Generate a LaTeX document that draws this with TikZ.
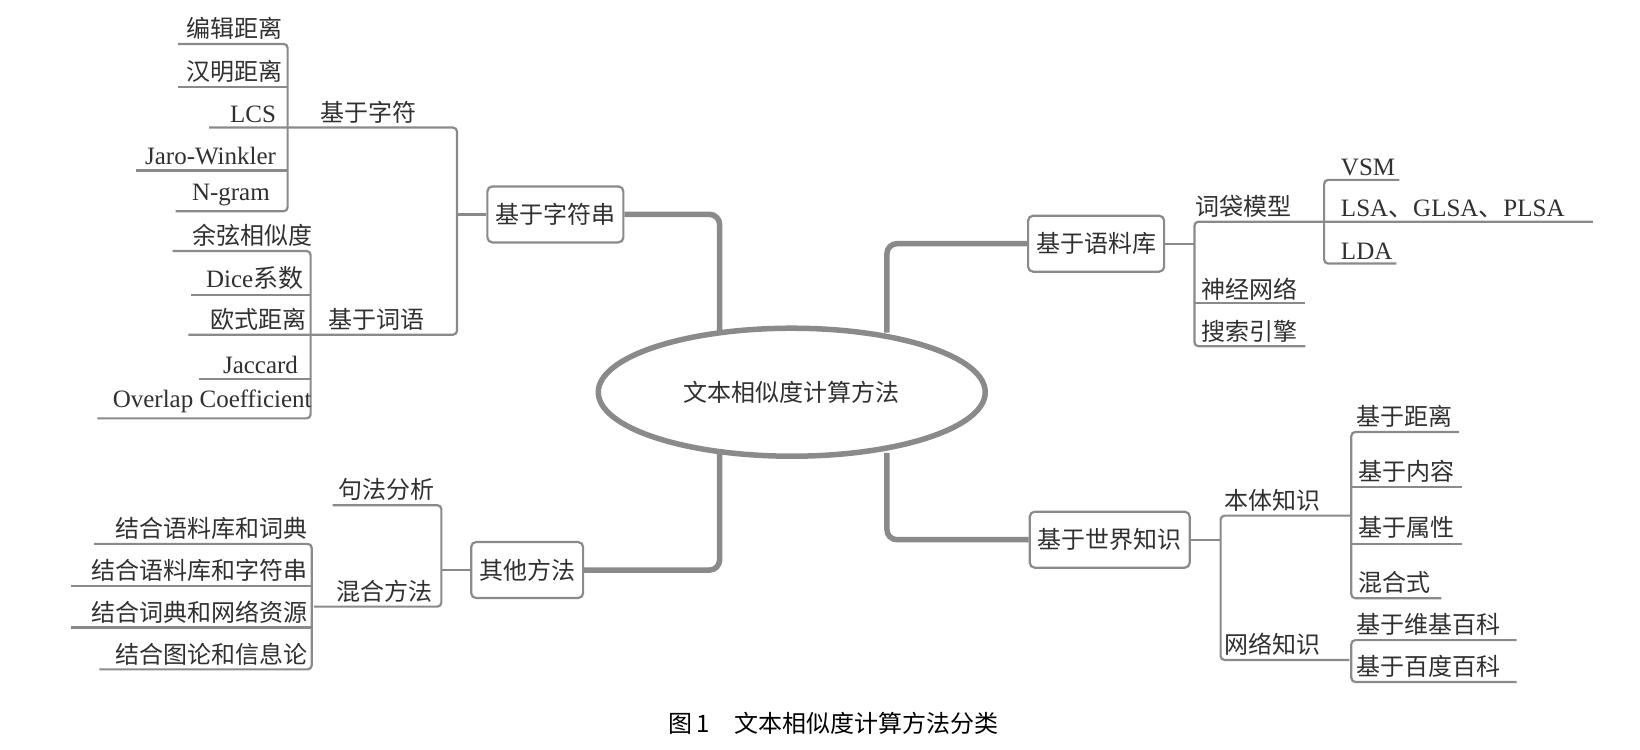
\documentclass[tikz,border=0pt]{standalone}
\usepackage{fontspec}
\setmainfont{Liberation Serif}
\newfontfamily\cjk{Noto Sans CJK SC}
\usetikzlibrary{shapes.geometric}
\definecolor{ln}{HTML}{8A8A8A}
\definecolor{tx}{HTML}{303030}
\tikzset{
 thin line/.style={draw=ln,line width=2.2pt,rounded corners=4pt},
 thick line/.style={draw=ln,line width=5.5pt,rounded corners=10pt},
 box/.style={draw=ln,line width=2.2pt,rounded corners=5pt,minimum height=56pt,inner xsep=8pt,text=tx,font=\fontsize{24}{24}\selectfont\cjk},
 lbl/.style={text=tx,font=\fontsize{24}{24}\selectfont\cjk,inner sep=1pt},
 latin/.style={text=tx,font=\fontsize{25}{25}\selectfont,inner sep=2pt},
}
\begin{document}
\begin{tikzpicture}[x=1.046pt,y=-1.046pt]
\useasboundingbox (0,0) rectangle (1568,717);
% centre
\node[ellipse,draw=ln,line width=5.5pt,minimum width=387pt,minimum height=128pt,lbl] (c) at (757,375) {文本相似度计算方法};
\node[box] (s) at (531,205) {基于字符串};
\node[box] (k) at (1048,233) {基于语料库};
\node[box] (w) at (1061,516) {基于世界知识};
\node[box] (o) at (504,545) {其他方法};
\draw[thick line] (s.east) -- (688,205) -- (688,318);
\draw[thick line] (848,318) -- (848,233) -- (k.west);
\draw[thick line] (848,433) -- (848,516) -- (w.west);
\draw[thick line] (688,433) -- (688,545) -- (o.east);
% left top
\draw[thin line] (s.west) -- (437,205);
\draw[thin line] (200,122) -- (437,122) -- (437,320) -- (180,320);
\node[lbl,anchor=south] at (352,119) {基于字符};
\node[lbl,anchor=south] at (360,317) {基于词语};
\draw[thin line] (170,42) -- (275,42) -- (275,202) -- (168,202);
\draw[thin line] (170,83) -- (275,83);
\draw[thin line] (130,163) -- (275,163);
\node[lbl,anchor=south east] at (271,39) {编辑距离};
\node[lbl,anchor=south east] at (271,80) {汉明距离};
\node[latin,anchor=south east] at (266,119) {LCS};
\node[latin,anchor=south east] at (266,160) {Jaro-Winkler};
\node[latin,anchor=south east] at (260,199) {N-gram};
\draw[thin line] (165,240) -- (297,240) -- (297,400) -- (93,400);
\draw[thin line] (183,282) -- (297,282);
\draw[thin line] (190,362) -- (297,362);
\node[lbl,anchor=south east] at (300,237) {余弦相似度};
\node[latin,anchor=south east] at (292,279) {Dice{\cjk 系数}};
\node[lbl,anchor=south east] at (294,317) {欧式距离};
\node[latin,anchor=south east] at (287,359) {Jaccard};
\node[latin,anchor=south east] at (300,397) {Overlap Coefficient};
% left bottom
\draw[thin line] (o.west) -- (422,545);
\draw[thin line] (318,483) -- (422,483) -- (422,580) -- (300,580);
\node[lbl,anchor=south] at (370,480) {句法分析};
\node[lbl,anchor=south] at (368,577) {混合方法};
\draw[thin line] (90,520) -- (298,520) -- (298,640) -- (95,640);
\draw[thin line] (68,560) -- (298,560);
\draw[thin line] (68,600) -- (298,600);
\node[lbl,anchor=south east] at (295,517) {结合语料库和词典};
\node[lbl,anchor=south east] at (295,557) {结合语料库和字符串};
\node[lbl,anchor=south east] at (295,597) {结合词典和网络资源};
\node[lbl,anchor=south east] at (295,637) {结合图论和信息论};
% right top
\draw[thin line] (k.east) -- (1142,233);
\draw[thin line] (1523,212) -- (1142,212) -- (1142,331) -- (1248,331);
\draw[thin line] (1142,290) -- (1248,290);
\node[lbl,anchor=south west] at (1142,209) {词袋模型};
\node[lbl,anchor=south west] at (1148,288) {神经网络};
\node[lbl,anchor=south west] at (1148,329) {搜索引擎};
\draw[thin line] (1338,172) -- (1266,172) -- (1266,252) -- (1335,252);
\node[latin,anchor=south west] at (1280,170) {VSM};
\node[latin,anchor=south west] at (1280,210) {LSA{\cjk 、}GLSA{\cjk 、}PLSA};
\node[latin,anchor=south west] at (1280,250) {LDA};
% right bottom
\draw[thin line] (w.east) -- (1167,516);
\draw[thin line] (1292,493) -- (1167,493) -- (1167,631) -- (1290,631);
\node[lbl,anchor=south west] at (1170,490) {本体知识};
\node[lbl,anchor=south west] at (1170,628) {网络知识};
\draw[thin line] (1395,413) -- (1292,413) -- (1292,572) -- (1378,572);
\draw[thin line] (1292,466) -- (1398,466);
\draw[thin line] (1292,520) -- (1398,520);
\node[lbl,anchor=south west] at (1296,410) {基于距离};
\node[lbl,anchor=south west] at (1298,462) {基于内容};
\node[lbl,anchor=south west] at (1298,516) {基于属性};
\node[lbl,anchor=south west] at (1298,569) {混合式};
\draw[thin line] (1450,612) -- (1292,612) -- (1292,652) -- (1450,652);
\node[lbl,anchor=south west] at (1296,609) {基于维基百科};
\node[lbl,anchor=south west] at (1296,649) {基于百度百科};
% caption
\node[lbl,text=black] (cap) at (797,692) {图\,1\quad 文本相似度计算方法分类};
\end{tikzpicture}
\end{document}
